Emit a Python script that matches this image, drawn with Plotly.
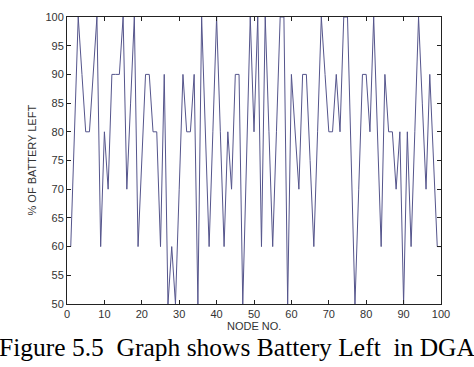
import plotly.graph_objects as go

node_no = list(range(1, 101))
battery_left = [
    60, 80, 100, 90, 80, 80, 90, 100, 60, 80,
    70, 90, 90, 90, 100, 70, 85, 100, 60, 75,
    90, 90, 80, 80, 60, 90, 50, 60, 50, 70,
    90, 80, 80, 90, 50, 100, 80, 60, 80, 100,
    80, 60, 80, 70, 90, 90, 50, 75, 100, 80,
    100, 60, 100, 80, 60, 80, 100, 100, 50, 90,
    80, 70, 90, 90, 75, 60, 80, 100, 90, 80,
    80, 90, 80, 100, 100, 75, 50, 70, 90, 90,
    80, 100, 80, 60, 90, 80, 80, 70, 80, 50,
    80, 60, 80, 100, 85, 70, 90, 75, 60, 60,
]
x_ticks = [0, 10, 20, 30, 40, 50, 60, 70, 80, 90, 100]
y_ticks = [50, 55, 60, 65, 70, 75, 80, 85, 90, 95, 100]

W, H = 474, 367
L, R, T, B = 67, 33, 11, 63
ph = H - T - B
pw = W - L - R
plot_left = L
plot_bottom = H - B

fig = go.Figure()
fig.add_trace(go.Scatter(
    x=node_no, y=battery_left, mode="lines",
    line=dict(color="#55558c", width=1),
    hoverinfo="skip", showlegend=False,
))

axis_common = dict(
    showgrid=False, zeroline=False, showline=True, linecolor="#222",
    linewidth=1, mirror="ticks", ticks="inside", ticklen=4,
    tickcolor="#222", tickfont=dict(family="Liberation Sans, Arial", size=11, color="#333"),
)
fig.update_xaxes(range=[0, 100], tickvals=x_ticks, **axis_common)
fig.update_yaxes(range=[50, 100], tickvals=y_ticks, **axis_common)

fig.update_layout(
    width=W, height=H,
    margin=dict(l=L, r=R, t=T, b=B),
    paper_bgcolor="white", plot_bgcolor="white",
    annotations=[
        dict(text="NODE NO.", xref="paper", yref="paper", x=0.5,
             y=-(326 - plot_bottom) / ph, xanchor="center", yanchor="middle",
             showarrow=False,
             font=dict(family="Liberation Sans, Arial", size=11, color="#333")),
        dict(text="% OF BATTERY LEFT", xref="paper", yref="paper",
             x=(31 - plot_left) / pw, y=0.5, xanchor="center", yanchor="middle",
             textangle=-90, showarrow=False,
             font=dict(family="Liberation Sans, Arial", size=11, color="#333")),
        dict(text="Figure 5.5\u00a0\u00a0Graph shows Battery Left\u00a0\u00a0in DGA",
             xref="paper", yref="paper",
             x=(237.5 - plot_left) / pw, y=-(348 - plot_bottom) / ph,
             xanchor="center", yanchor="middle", showarrow=False,
             font=dict(family="Liberation Serif, Times New Roman", size=25.5, color="#000")),
    ],
)

fig.write_html(
    "out.html",
    config={"displayModeBar": False},
    post_script="document.body.style.margin='0px';document.body.style.overflow='hidden';",
)
